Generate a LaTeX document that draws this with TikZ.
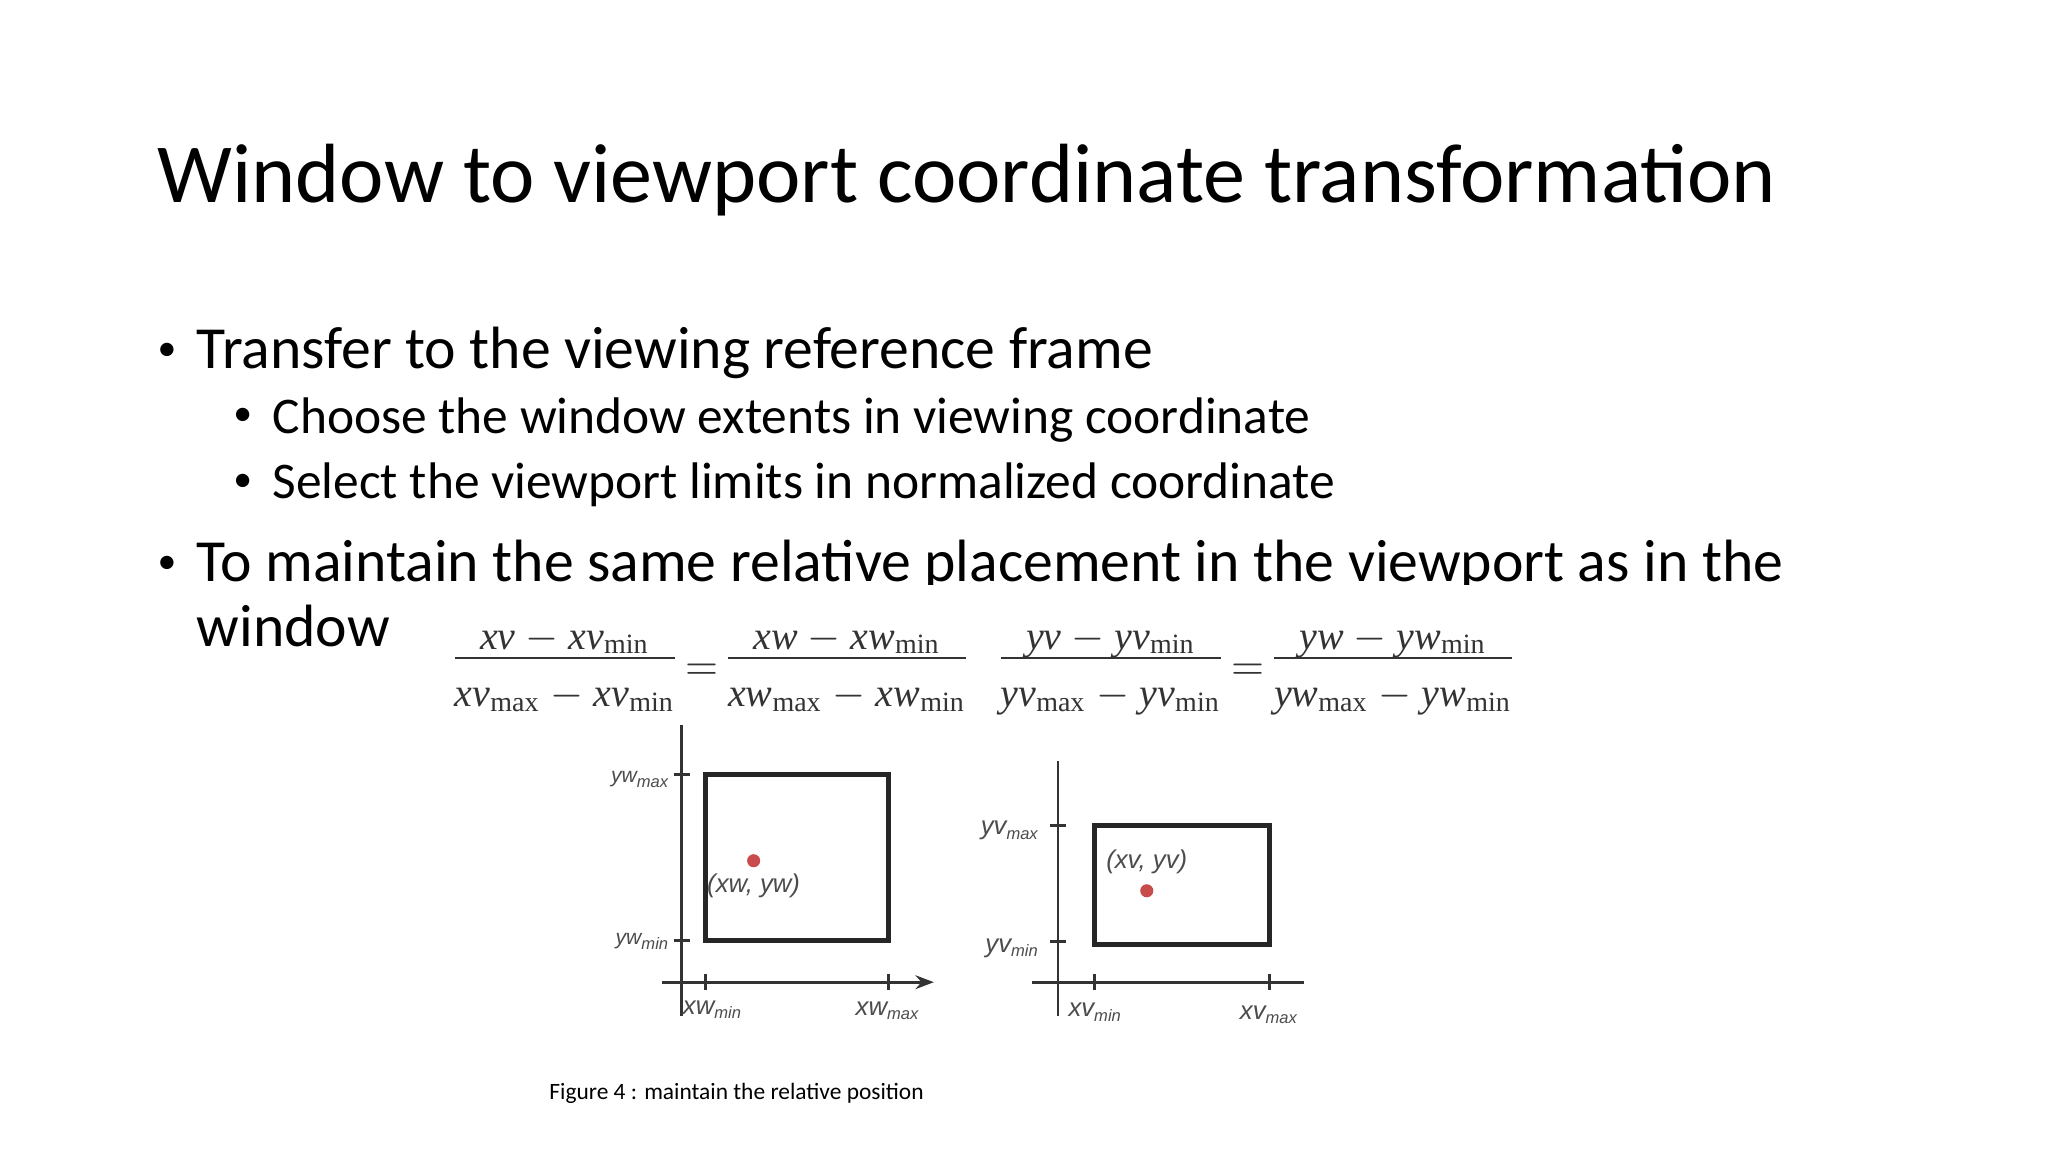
\documentclass[tikz,border=0pt]{standalone}
\usepackage{fontspec}
\setmainfont{Carlito}
\newfontfamily\serifmath{Liberation Serif}
\newfontfamily\lblfont{Liberation Sans}
\usetikzlibrary{arrows.meta}
\newcommand{\mv}[1]{{\itshape #1}}
\newcommand{\sbs}[1]{\textsubscript{\upshape #1}}
\newcommand{\fr}[2]{$\vcenter{\hbox{\begin{tabular}{@{}c@{}}#1\\[-0.3ex]\hline\rule{0pt}{2.6ex}#2\end{tabular}}}$}
\newcommand{\lb}[2]{#1\textsubscript{\fontsize{3.6}{4}\selectfont #2}}
\begin{document}
\begin{tikzpicture}[x=0.01cm,y=-0.01cm,
  title/.style={anchor=base west,inner sep=0,font=\fontsize{18.3}{22}\selectfont},
  bl/.style={anchor=base west,inner sep=0,font=\fontsize{13}{16}\selectfont},
  sbl/.style={anchor=base west,inner sep=0,font=\fontsize{11.2}{14}\selectfont},
  bdot/.style={anchor=base west,inner sep=0,font=\fontsize{8.2}{10}\selectfont},
  eq/.style={inner sep=0,font=\serifmath\fontsize{8.7}{10}\selectfont,text=black!80},
  lbl/.style={inner sep=0,font=\lblfont\itshape\fontsize{5.6}{6}\selectfont,text=black!70},
  ax/.style={line width=0.6pt,black!80},
  box/.style={line width=1.1pt,black!85},
  dot/.style={circle,fill=red!70!black!70,inner sep=0,minimum size=0.1cm}]
\useasboundingbox (0,0) rectangle (1568,882);
\node[title] (t) at (120,155) {Window to viewport coordinate transformation};
\node[bdot] (d1) at (120,276) {\textbullet};
\node[bl] (b1) at (150,282) {Transfer to the viewing reference frame};
\node[bdot] (d2) at (178,326) {\textbullet};
\node[sbl] (s1) at (208,332) {Choose the window extents in viewing coordinate};
\node[bdot] (d3) at (178,376) {\textbullet};
\node[sbl] (s2) at (208,382) {Select the viewport limits in normalized coordinate};
\node[bdot] (d4) at (120,439) {\textbullet};
\node[bl] (b2) at (150,445) {To maintain the same relative placement in the viewport as in the};
\node[bl] (b3) at (150,495) {window};
\fill[white] (345,448) rectangle (1160,800);
\node[eq] (e1) at (544,512) {\fr{\mv{xv} $-$ \mv{xv}\sbs{min}}{\mv{xv}\sbs{max} $-$ \mv{xv}\sbs{min}} $=$ \fr{\mv{xw} $-$ \mv{xw}\sbs{min}}{\mv{xw}\sbs{max} $-$ \mv{xw}\sbs{min}}};
\node[eq] (e2) at (962,512) {\fr{\mv{yv} $-$ \mv{yv}\sbs{min}}{\mv{yv}\sbs{max} $-$ \mv{yv}\sbs{min}} $=$ \fr{\mv{yw} $-$ \mv{yw}\sbs{min}}{\mv{yw}\sbs{max} $-$ \mv{yw}\sbs{min}}};
% left graph
\coordinate (ay1) at (522,555); \coordinate (ay2) at (522,778);
\coordinate (ax1) at (507,752); \coordinate (ax2) at (715,752);
\draw[ax] (ay1) -- (ay2);
\draw[ax,-{Stealth[length=4pt]}] (ax1) -- (ax2);
\draw[box] (540,593) rectangle (680,720);
\draw[ax] (516,593) -- (528,593) (516,720) -- (528,720) (540,746) -- (540,758) (680,746) -- (680,758);
\node[lbl,anchor=east,font=\lblfont\itshape\fontsize{4.6}{5}\selectfont] (l1) at (514,597) {\lb{yw}{max}};
\node[lbl,anchor=east,font=\lblfont\itshape\fontsize{4.6}{5}\selectfont] (l2) at (514,721) {\lb{yw}{min}};
\node[lbl] (l3) at (546,773) {\lb{xw}{min}};
\node[lbl] (l4) at (680,774) {\lb{xw}{max}};
\node[dot] (p1) at (577,659) {};
\node[lbl] (pl1) at (577,678) {(xw, yw)};
% right graph
\coordinate (by1) at (810,583); \coordinate (by2) at (810,778);
\coordinate (bx1) at (790,752); \coordinate (bx2) at (998,752);
\draw[ax] (by1) -- (by2);
\draw[ax] (bx1) -- (bx2);
\draw[box] (838,632) rectangle (972,723);
\draw[ax] (804,632) -- (816,632) (804,721) -- (816,721) (838,746) -- (838,758) (972,746) -- (972,758);
\node[lbl,anchor=east] (r1) at (797,636) {\lb{yv}{max}};
\node[lbl,anchor=east] (r2) at (797,726) {\lb{yv}{min}};
\node[lbl] (r3) at (839,775) {\lb{xv}{min}};
\node[lbl] (r4) at (972,777) {\lb{xv}{max}};
\node[dot] (p2) at (878,682) {};
\node[lbl] (pl2) at (878,660) {(xv, yv)};
\node[anchor=base west,inner sep=0,font=\fontsize{5.1}{7}\selectfont] (cap) at (420,842) {Figure 4 : maintain the relative position};
\end{tikzpicture}
\end{document}
